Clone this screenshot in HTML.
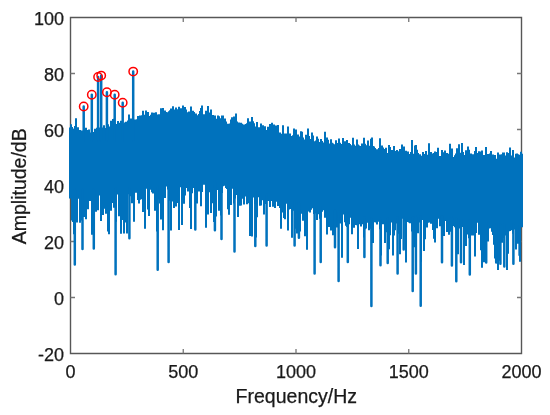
<!DOCTYPE html>
<html><head><meta charset="utf-8"><style>
html,body{margin:0;padding:0;background:#fff;width:550px;height:415px;overflow:hidden}
svg{display:block}
text{font-family:"Liberation Sans",Arial,sans-serif;fill:#1a1a1a;stroke:#1a1a1a;stroke-width:0.25px}
</style></head><body>
<svg width="550" height="415" viewBox="0 0 550 415">
<rect width="550" height="415" fill="#fff"/>
<g fill="none" stroke="#575757" stroke-width="1.4"><path d="M70.5 17.5H521.5V353.5H70.5Z"/><path stroke="#777" stroke-width="1.3" d="M70.5 297.50h4.5M521.5 297.50h-4.5M70.5 241.50h4.5M521.5 241.50h-4.5M70.5 185.50h4.5M521.5 185.50h-4.5M70.5 129.50h4.5M521.5 129.50h-4.5M70.5 73.50h4.5M521.5 73.50h-4.5M183.25 353.5v-4.5M183.25 17.5v4.5M296.00 353.5v-4.5M296.00 17.5v4.5M408.75 353.5v-4.5M408.75 17.5v4.5"/></g>
<g fill="none" stroke="#0072BD" stroke-width="2.00"><path d="M70 127.4V198.4M71 124.3V190.5M72 127.1V220.5M73 129.1V222.1M74 128.8V234.2M75 126.1V190.8M76 118.3V201.2M77 128.0V222.5M78 127.3V198.8M79 130.2V192.7M80 129.9V222.8M81 131.6V220.5M82 130.5V191.3M83 132.2V191.8M84 129.2V216.9M85 128.7V192.3M86 127.7V219.2M87 130.5V201.3M88 130.0V209.3M89 129.4V196.8M90 132.4V201.0M91 132.4V194.7M92 124.1V234.8M93 132.8V211.4M94 132.1V219.7M95 128.7V210.2M96 130.0V211.8M97 127.7V191.1M98 128.5V210.2M99 127.6V195.5M100 130.6V194.9M101 128.2V221.1M102 128.1V191.0M103 127.4V214.9M104 125.2V200.0M105 128.4V208.7M106 128.1V213.7M107 126.4V199.5M108 124.3V231.5M109 127.7V234.2M110 126.4V194.1M111 120.8V210.8M112 123.5V192.4M113 119.1V202.9M114 118.8V207.7M115 123.5V191.8M116 124.8V221.8M117 124.0V194.4M118 121.1V194.0M119 122.7V216.2M120 125.1V202.1M121 120.7V233.7M122 124.5V219.9M123 123.8V190.9M124 124.0V233.6M125 122.6V199.7M126 121.7V222.5M127 123.5V233.5M128 120.6V193.0M129 114.6V194.2M130 118.6V190.9M131 119.7V196.3M132 118.5V203.2M133 119.4V201.3M134 120.9V221.8M135 119.4V188.6M136 120.3V192.7M137 119.2V190.5M138 115.9V200.0M139 118.3V203.4M140 115.4V199.8M141 118.4V198.2M142 115.3V199.3M143 110.7V211.9M144 118.3V189.9M145 114.8V228.8M146 110.5V188.4M147 115.5V188.8M148 112.1V209.6M149 116.0V216.1M150 116.5V188.4M151 114.7V189.8M152 112.4V192.3M153 114.6V193.6M154 112.8V189.5M155 113.3V210.7M156 112.2V191.5M157 115.3V231.6M158 114.6V196.0M159 114.3V199.6M160 114.4V203.6M161 108.3V219.5M162 113.1V213.2M163 108.0V230.2M164 112.9V188.3M165 110.6V197.9M166 111.9V186.5M167 112.3V186.4M168 112.4V189.5M169 111.2V187.0M170 110.2V200.8M171 108.6V230.5M172 110.9V201.6M173 106.3V199.9M174 109.6V208.1M175 110.1V198.5M176 107.6V206.5M177 109.3V189.2M178 110.2V203.0M179 106.8V229.9M180 110.0V186.9M181 108.3V187.2M182 112.5V225.0M183 105.4V196.0M184 112.4V203.7M185 107.0V195.5M186 109.6V188.0M187 113.3V185.2M188 112.2V191.6M189 111.6V184.7M190 114.0V207.9M191 106.4V228.9M192 112.1V193.2M193 110.8V187.9M194 111.9V186.2M195 114.6V192.2M196 113.6V197.9M197 115.3V203.5M198 115.3V189.5M199 113.9V191.6M200 111.0V189.0M201 108.0V206.3M202 105.4V192.1M203 116.2V183.5M204 114.2V184.7M205 115.9V183.3M206 110.7V227.7M207 113.0V190.4M208 105.9V214.6M209 115.4V184.8M210 112.6V192.3M211 109.6V212.9M212 118.3V203.3M213 115.1V183.2M214 119.5V221.9M215 115.4V194.1M216 118.8V216.6M217 120.7V190.0M218 115.4V186.9M219 116.2V210.8M220 118.6V203.8M221 118.2V215.4M222 115.5V193.1M223 115.5V186.2M224 119.2V185.8M225 118.4V185.7M226 121.5V187.9M227 124.4V188.9M228 123.8V209.2M229 124.9V214.7M230 123.4V201.7M231 119.5V204.9M232 117.2V188.8M233 123.7V186.8M234 116.6V203.5M235 126.2V198.4M236 113.6V195.0M237 121.4V189.1M238 124.5V216.9M239 122.4V191.4M240 124.7V205.8M241 122.7V205.6M242 123.7V198.8M243 127.3V190.9M244 124.6V204.5M245 126.3V194.4M246 123.9V196.4M247 123.2V204.3M248 118.3V203.2M249 124.9V202.1M250 121.4V235.9M251 123.3V223.5M252 117.1V236.4M253 121.2V193.3M254 123.3V197.4M255 126.5V204.1M256 128.1V237.4M257 122.0V217.2M258 127.7V197.2M259 127.2V195.7M260 127.7V205.8M261 123.5V205.4M262 128.2V200.2M263 125.3V200.3M264 127.6V214.5M265 126.3V203.9M266 130.6V200.8M267 130.0V199.1M268 126.7V201.1M269 127.6V198.7M270 124.0V207.0M271 126.8V201.0M272 122.8V197.3M273 131.2V206.8M274 124.5V202.7M275 131.4V208.0M276 125.4V201.3M277 125.9V201.8M278 125.0V206.1M279 132.4V203.3M280 132.4V208.1M281 134.3V228.8M282 133.7V200.6M283 125.3V212.5M284 133.5V218.1M285 135.1V219.3M286 133.5V201.6M287 134.1V203.7M288 126.5V230.4M289 134.3V209.6M290 133.4V203.9M291 137.9V209.1M292 136.1V237.8M293 135.3V206.2M294 128.5V210.7M295 140.0V217.5M296 129.6V228.7M297 135.6V233.6M298 134.5V208.4M299 136.6V205.0M300 140.2V231.6M301 131.2V213.7M302 131.7V210.2M303 137.5V220.7M304 139.6V209.7M305 139.7V236.3M306 134.7V222.4M307 139.4V249.8M308 128.4V211.5M309 136.1V208.4M310 139.1V212.5M311 139.0V209.7M312 132.5V208.3M313 135.5V208.3M314 141.3V214.1M315 141.7V211.4M316 140.6V213.5M317 136.4V220.1M318 138.8V214.3M319 142.0V208.9M320 143.0V218.8M321 139.0V217.4M322 140.9V211.8M323 142.6V210.3M324 142.4V209.3M325 131.8V217.7M326 143.3V211.7M327 137.4V234.6M328 139.8V215.5M329 143.5V227.0M330 144.4V219.3M331 139.3V230.4M332 142.8V212.0M333 143.4V235.3M334 144.3V217.7M335 145.0V231.2M336 140.2V214.7M337 143.0V227.6M338 146.0V221.9M339 138.6V213.8M340 142.7V223.5M341 144.2V218.6M342 144.1V257.7M343 137.9V213.7M344 147.4V214.4M345 141.3V222.2M346 145.3V225.8M347 140.0V227.0M348 143.7V216.4M349 142.9V224.2M350 144.1V217.8M351 145.3V217.2M352 146.6V234.3M353 137.7V216.9M354 144.4V227.8M355 146.8V225.1M356 145.7V220.4M357 139.4V225.2M358 144.4V248.9M359 145.5V217.9M360 146.0V224.2M361 148.9V226.4M362 143.4V221.7M363 145.4V224.3M364 137.8V237.4M365 143.8V229.2M366 145.2V228.4M367 145.6V221.5M368 140.5V222.8M369 148.6V230.2M370 145.8V228.8M371 138.7V225.8M372 137.6V240.6M373 146.1V243.0M374 146.5V222.2M375 148.0V220.9M376 149.5V222.4M377 149.2V224.5M378 150.3V221.8M379 148.1V221.2M380 138.3V229.2M381 149.8V255.6M382 145.5V219.8M383 147.6V224.3M384 150.6V219.2M385 148.9V242.9M386 147.8V218.4M387 153.0V232.3M388 153.3V219.9M389 145.1V249.2M390 147.1V235.2M391 151.0V219.4M392 150.0V222.4M393 149.9V255.6M394 146.1V235.6M395 154.1V230.2M396 151.0V223.6M397 150.0V223.2M398 152.5V223.5M399 151.2V233.7M400 149.0V254.2M401 153.6V238.9M402 144.5V217.7M403 154.7V218.8M404 146.5V220.1M405 151.6V220.7M406 150.8V262.5M407 155.1V222.0M408 151.6V219.2M409 155.2V222.4M410 154.1V223.3M411 152.0V220.4M412 140.0V231.5M413 153.7V225.5M414 154.3V247.3M415 145.6V240.9M416 145.0V223.0M417 149.7V228.4M418 153.0V233.3M419 155.7V222.5M420 154.2V217.7M421 155.7V261.8M422 156.3V219.2M423 152.0V219.9M424 153.9V251.1M425 154.8V239.2M426 151.1V220.8M427 156.9V227.6M428 154.7V222.8M429 143.3V222.4M430 155.0V220.4M431 151.9V223.7M432 156.5V219.9M433 153.4V230.0M434 153.0V238.7M435 151.5V242.5M436 155.3V222.4M437 152.1V228.3M438 147.7V218.7M439 156.7V218.0M440 156.0V226.3M441 156.4V219.7M442 149.9V236.3M443 152.2V216.5M444 154.8V236.1M445 150.5V221.0M446 155.1V218.2M447 153.0V232.1M448 155.4V221.4M449 153.7V234.7M450 143.8V231.8M451 154.8V228.4M452 148.4V234.1M453 156.9V223.3M454 157.1V225.9M455 155.3V227.3M456 153.4V228.6M457 148.2V242.0M458 152.0V254.3M459 144.3V227.8M460 153.7V228.5M461 152.7V237.4M462 143.0V223.3M463 152.1V226.9M464 155.0V264.9M465 157.3V223.8M466 150.2V246.1M467 158.4V234.6M468 146.5V229.3M469 149.7V238.3M470 155.4V223.8M471 153.5V223.1M472 155.8V235.6M473 154.2V235.4M474 158.7V223.0M475 151.0V256.4M476 146.9V233.0M477 153.0V222.1M478 157.2V222.8M479 151.3V234.7M480 151.6V224.1M481 154.2V250.3M482 150.5V267.8M483 155.1V224.7M484 157.2V262.2M485 155.0V237.2M486 147.0V237.8M487 156.4V233.4M488 153.9V241.6M489 155.3V228.4M490 153.5V228.2M491 150.9V225.4M492 156.0V231.7M493 154.4V235.1M494 155.2V244.7M495 155.1V258.6M496 159.0V242.5M497 158.8V228.3M498 152.6V270.0M499 154.5V233.6M500 154.4V260.8M501 155.3V235.5M502 154.3V242.7M503 152.6V226.7M504 152.6V238.1M505 157.7V226.3M506 155.6V235.5M507 152.2V270.0M508 153.1V253.8M509 156.5V231.3M510 147.4V230.9M511 155.5V230.2M512 158.4V230.0M513 149.9V233.8M514 157.4V229.5M515 157.7V226.3M516 153.7V249.5M517 153.5V232.1M518 154.3V243.7M519 154.7V227.5M520 158.5V261.7M521 151.7V226.1M522 153.7V227.2"/><path stroke-width="2.5" stroke-linecap="round" d="M83.7 106.5V140.0M91.8 94.7V140.0M98.1 77.0V140.0M101.2 75.6V140.0M106.9 92.2V140.0M114.7 94.7V140.0M122.7 102.7V140.0M133.2 71.6V140.0M74.8 190.0V264.4M82.5 190.0V249.1M93.8 189.8V248.5M115.6 188.9V274.2M129.4 188.4V238.2M157.7 186.6V269.8M168.6 185.7V262.0M195.3 183.6V229.5M214.9 182.0V230.2M221.5 183.6V239.0M234.5 186.9V251.4M255.3 192.2V245.9M266.6 195.1V245.5M294.6 202.0V245.5M298.9 203.0V237.8M314.6 206.5V273.4M320.7 207.9V262.0M335.0 211.1V247.2M338.6 211.9V281.0M347.8 214.0V262.0M364.4 217.7V257.0M371.4 218.9V306.0M380.5 218.6V265.3M387.7 218.2V263.0M397.6 217.8V273.4M403.7 217.6V249.4M412.7 217.2V291.0M415.9 217.0V273.5M420.7 216.8V305.8M442.0 216.3V262.2M451.9 217.9V265.5M456.3 218.6V281.2M461.0 219.4V262.2M469.8 220.8V274.6M486.2 223.5V262.6M496.2 225.0V262.6M500.4 225.0V263.7M504.3 225.0V266.6M513.4 225.0V263.7M519.6 225.0V255.0"/></g>
<g fill="none" stroke="#FF0000" stroke-width="1.5"><circle cx="83.7" cy="106.5" r="4.2"/><circle cx="91.8" cy="94.7" r="4.2"/><circle cx="98.1" cy="77.0" r="4.2"/><circle cx="101.2" cy="75.6" r="4.2"/><circle cx="106.9" cy="92.2" r="4.2"/><circle cx="114.7" cy="94.7" r="4.2"/><circle cx="122.7" cy="102.7" r="4.2"/><circle cx="133.2" cy="71.6" r="4.2"/></g>
<g font-size="18"><text x="64.1" y="360.90" text-anchor="end">-20</text><text x="64.1" y="304.90" text-anchor="end">0</text><text x="64.1" y="248.90" text-anchor="end">20</text><text x="64.1" y="192.90" text-anchor="end">40</text><text x="64.1" y="136.90" text-anchor="end">60</text><text x="64.1" y="80.90" text-anchor="end">80</text><text x="64.1" y="24.90" text-anchor="end">100</text><text x="70.50" y="378.2" text-anchor="middle">0</text><text x="183.25" y="378.2" text-anchor="middle">500</text><text x="296.00" y="378.2" text-anchor="middle">1000</text><text x="408.75" y="378.2" text-anchor="middle">1500</text><text x="521.50" y="378.2" text-anchor="middle">2000</text></g>
<text x="296.3" y="403.1" font-size="19.5" text-anchor="middle">Frequency/Hz</text>
<text transform="translate(26.0,186.3) rotate(-90)" font-size="19.5" text-anchor="middle">Amplitude/dB</text>
</svg>
</body></html>
